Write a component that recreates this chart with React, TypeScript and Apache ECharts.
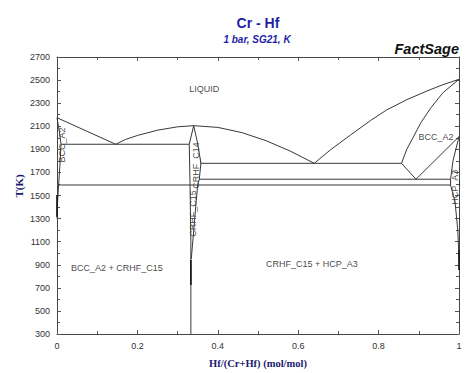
import React, { useEffect, useRef } from "react";
import * as echarts from "echarts";

// Axis ranges and ticks
const X_MIN = 0;
const X_MAX = 1;
const X_STEP = 0.2;
const Y_MIN = 300;
const Y_MAX = 2700;
const Y_STEP = 200;

// Phase boundaries: [Hf mole fraction, T(K)]
const liquidusCr = [[0, 2174], [0.146, 1944]];
const liquidusC14Left = [[0.146, 1944], [0.17, 1985], [0.2, 2020], [0.25, 2066], [0.3, 2095], [0.34, 2105]];
const liquidusC14Right = [[0.34, 2105], [0.4, 2090], [0.46, 2045], [0.52, 1975], [0.58, 1885], [0.64, 1779]];
const liquidusHf = [[0.64, 1779], [0.68, 1895], [0.73, 2024], [0.78, 2150], [0.82, 2241], [0.87, 2330], [0.92, 2405], [0.96, 2460], [1, 2507]];
const solidusBccHf = [[0.857, 1779], [0.87, 1900], [0.886, 2004], [0.905, 2130], [0.93, 2260], [0.96, 2390], [1, 2507]];
const solvusBccHf = [[0.857, 1779], [0.893, 1641]];
const bccHcpBoundary = [[0.893, 1641], [1, 2010]];
const hcpBoundary = [[1, 2010], [0.985, 1800], [0.979, 1641], [0.979, 1591], [0.99, 1450], [0.997, 1200], [1, 950]];
const bccCrBoundary = [[0, 2174], [0.006, 2050], [0.01, 1944], [0.007, 1750], [0.004, 1591], [0.001, 1420], [0, 1300]];
const lavesLeft = [[0.34, 2105], [0.329, 1944], [0.331, 1591], [0.333, 1100], [0.333, 300]];
const lavesRight = [[0.34, 2105], [0.35, 1950], [0.358, 1779], [0.354, 1641], [0.35, 1591], [0.345, 1400], [0.339, 1150], [0.334, 950]];

// Invariant lines
const eutecticCr = [[0.01, 1944], [0.329, 1944]];
const eutecticHf = [[0.358, 1779], [0.857, 1779]];
const eutectoidUpper = [[0.354, 1641], [0.979, 1641]];
const eutectoidLower = [[0.004, 1591], [0.979, 1591]];

// Heavy segments along the pure/compound lines
const heavySegments = [
  [[0, 1316], [0, 1504]],
  [[0.333, 725], [0.333, 941]],
  [[1, 855], [1, 1028]],
];

// Region labels: [name, x, T, rotation]
const labelNames = ["LIQUID", "BCC_A2 + CRHF_C15", "CRHF_C15 + HCP_A3", "BCC_A2", "BCC_A2", "CRHF_C14", "CRHF_C15", "HCP_A3"];
const labelX = [0.366, 0.149, 0.634, 0.943, 0.013, 0.347, 0.339, 0.99];
const labelT = [2423, 872, 907, 2007, 1938, 1760, 1345, 1572];
const labelRot = [0, 0, 0, 0, 90, 90, 90, 90];

const LINE_COLOR = "#383838";
const FONT = "'Liberation Sans', Arial, sans-serif";

export default function App() {
  const ref = useRef<HTMLDivElement>(null);

  useEffect(() => {
    if (!ref.current) return;
    const chart = echarts.init(ref.current, null, { renderer: "svg" });

    const boundaries = [
      liquidusCr, liquidusC14Left, liquidusC14Right, liquidusHf, solidusBccHf,
      solvusBccHf, bccHcpBoundary, hcpBoundary, bccCrBoundary, lavesLeft, lavesRight,
      eutecticCr, eutecticHf, eutectoidUpper, eutectoidLower,
    ];

    const lineSeries: any[] = boundaries.map((d) => ({
      type: "line",
      data: d,
      showSymbol: false,
      symbol: "none",
      silent: true,
      lineStyle: { color: LINE_COLOR, width: 1 },
      xAxisIndex: 0,
      yAxisIndex: 0,
    }));

    heavySegments.forEach((d) =>
      lineSeries.push({
        type: "line",
        data: d,
        symbol: "none",
        silent: true,
        lineStyle: { color: "#1a1a1a", width: 1.7 },
        clip: false,
      })
    );

    lineSeries.push({
      type: "scatter",
      symbolSize: 0,
      silent: true,
      data: labelNames.map((n, i) => ({
        name: n,
        value: [labelX[i], labelT[i]],
        label: { rotate: labelRot[i] },
      })),
      label: {
        show: true,
        position: "inside",
        formatter: "{b}",
        color: "#111",
        fontSize: 9,
        fontFamily: FONT,
      },
    });

    const tickCommon = {
      axisLine: { show: true, onZero: false, lineStyle: { color: "#444", width: 1 } },
      axisTick: { show: true, inside: true, length: 4, lineStyle: { color: "#555" } },
      minorTick: { show: true, splitNumber: 2, length: 3, lineStyle: { color: "#555" } },
      splitLine: { show: false },
    };

    chart.setOption({
      animation: false,
      grid: { left: 57, right: 15, top: 57, bottom: 39 },
      xAxis: [
        {
          type: "value",
          min: X_MIN,
          max: X_MAX,
          interval: X_STEP,
          position: "bottom",
          ...tickCommon,
          axisLabel: { color: "#333", fontSize: 9, fontFamily: FONT, margin: 7, formatter: (v: number) => String(Math.round(v * 10) / 10) },
        },
        {
          type: "value",
          min: X_MIN,
          max: X_MAX,
          interval: X_STEP,
          position: "top",
          ...tickCommon,
          axisLabel: { show: false },
        },
      ],
      yAxis: [
        {
          type: "value",
          min: Y_MIN,
          max: Y_MAX,
          interval: Y_STEP,
          position: "left",
          ...tickCommon,
          axisLabel: { color: "#333", fontSize: 9, fontFamily: FONT, margin: 7, formatter: (v: number) => String(v) },
        },
        {
          type: "value",
          min: Y_MIN,
          max: Y_MAX,
          interval: Y_STEP,
          position: "right",
          ...tickCommon,
          axisLabel: { show: false },
        },
      ],
      graphic: [
        {
          type: "text",
          x: 258,
          y: 23,
          style: { text: "Cr - Hf", font: `bold 14px ${FONT}`, fill: "#1f1fa6", textAlign: "center", textVerticalAlign: "middle" },
        },
        {
          type: "text",
          x: 257,
          y: 39.5,
          style: { text: "1 bar, SG21, K", font: `italic bold 10px ${FONT}`, fill: "#1f1fa6", textAlign: "center", textVerticalAlign: "middle" },
        },
        {
          type: "text",
          x: 459,
          y: 49,
          style: { text: "FactSage", font: `italic bold 14.5px ${FONT}`, fill: "#111", textAlign: "right", textVerticalAlign: "middle" },
        },
        {
          type: "text",
          x: 19,
          y: 186,
          rotation: Math.PI / 2,
          style: { text: "T(K)", font: `bold 11px 'Liberation Serif', 'Times New Roman', serif`, fill: "#1a1a70", textAlign: "center", textVerticalAlign: "middle" },
        },
        {
          type: "text",
          x: 258,
          y: 363,
          style: { text: "Hf/(Cr+Hf) (mol/mol)", font: `bold 10.5px 'Liberation Serif', 'Times New Roman', serif`, fill: "#1a1a70", textAlign: "center", textVerticalAlign: "middle" },
        },
      ],
      series: lineSeries,
    });

    return () => chart.dispose();
  }, []);

  return (
    <div
      ref={ref}
      style={{ position: "absolute", left: 0, top: 0, width: 474, height: 373 }}
    />
  );
}
